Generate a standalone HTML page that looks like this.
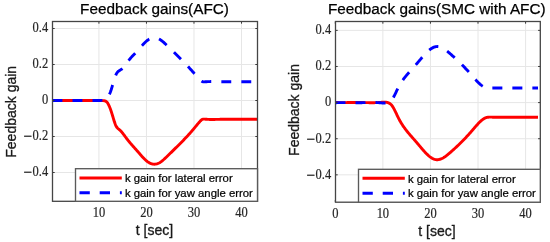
<!DOCTYPE html>
<html><head><meta charset="utf-8"><style>
html,body{margin:0;padding:0;background:#fff;width:550px;height:242px;overflow:hidden}
svg{display:block}
text{font-family:"Liberation Sans",Arial,sans-serif}
.tk{font-family:"Liberation Serif","Times New Roman",serif;font-size:13px;fill:#262626;stroke:#262626;stroke-width:0.18px}
.ti{font-size:15.3px;fill:#000;stroke:#000;stroke-width:0.25px}
.lb{font-size:14px;fill:#1a1a1a;stroke:#1a1a1a;stroke-width:0.32px}
.lg{font-size:11.35px;fill:#000;stroke:#000;stroke-width:0.22px}
.mn{font-family:"DejaVu Serif",serif;font-size:12px}
</style></head><body>
<svg width="550" height="242" viewBox="0 0 550 242">
<rect width="550" height="242" fill="#fff"/>
<line x1="98.93" y1="21.5" x2="98.93" y2="201.3" stroke="#e6e6e6" stroke-width="1"/>
<line x1="146.46" y1="21.5" x2="146.46" y2="201.3" stroke="#e6e6e6" stroke-width="1"/>
<line x1="193.99" y1="21.5" x2="193.99" y2="201.3" stroke="#e6e6e6" stroke-width="1"/>
<line x1="241.52" y1="21.5" x2="241.52" y2="201.3" stroke="#e6e6e6" stroke-width="1"/>
<line x1="52.5" y1="172.50" x2="257.5" y2="172.50" stroke="#e6e6e6" stroke-width="1"/>
<line x1="52.5" y1="136.50" x2="257.5" y2="136.50" stroke="#e6e6e6" stroke-width="1"/>
<line x1="52.5" y1="100.50" x2="257.5" y2="100.50" stroke="#e6e6e6" stroke-width="1"/>
<line x1="52.5" y1="64.50" x2="257.5" y2="64.50" stroke="#e6e6e6" stroke-width="1"/>
<line x1="52.5" y1="28.50" x2="257.5" y2="28.50" stroke="#e6e6e6" stroke-width="1"/>
<path d="M52.50,100.47L53.00,100.48L53.50,100.48L54.00,100.49L54.50,100.49L55.00,100.49L55.50,100.50L56.00,100.50L56.50,100.50L57.00,100.51L57.50,100.51L58.00,100.51L58.50,100.51L59.00,100.51L59.50,100.51L60.00,100.52L60.50,100.52L61.00,100.52L61.50,100.52L62.00,100.52L62.50,100.52L63.00,100.52L63.50,100.52L64.00,100.52L64.50,100.52L65.00,100.52L65.50,100.52L66.00,100.52L66.50,100.52L67.00,100.52L67.50,100.52L68.00,100.51L68.50,100.51L69.00,100.51L69.50,100.51L70.00,100.51L70.50,100.51L71.00,100.51L71.50,100.50L72.00,100.50L72.50,100.50L73.00,100.50L73.50,100.50L74.00,100.50L74.50,100.50L75.00,100.49L75.50,100.49L76.00,100.49L76.50,100.49L77.00,100.49L77.50,100.49L78.00,100.48L78.50,100.48L79.00,100.48L79.50,100.48L80.00,100.48L80.50,100.48L81.00,100.48L81.50,100.48L82.00,100.48L82.50,100.47L83.00,100.47L83.50,100.47L84.00,100.47L84.50,100.47L85.00,100.47L85.50,100.47L86.00,100.47L86.50,100.47L87.00,100.48L87.50,100.48L88.00,100.48L88.50,100.48L89.00,100.48L89.50,100.48L90.00,100.48L90.50,100.49L91.00,100.49L91.50,100.49L92.00,100.49L92.50,100.50L93.00,100.50L93.50,100.50L94.00,100.51L94.50,100.51L95.00,100.52L95.50,100.52L96.00,100.53L96.50,100.53L97.00,100.54L97.50,100.54L98.00,100.55L98.50,100.56L99.00,100.56L99.50,100.57L100.00,100.58L100.50,100.59L101.00,100.59L101.50,100.60L102.00,100.61L102.50,100.62L103.00,100.63L103.50,100.66L104.00,100.71L104.50,100.79L105.00,100.92L105.50,101.11L106.00,101.38L106.50,101.73L107.00,102.21L107.50,102.85L108.00,103.65L108.50,104.58L109.00,105.64L109.50,106.79L110.00,108.03L110.50,109.34L111.00,110.74L111.50,112.24L112.00,113.83L112.50,115.49L113.00,117.17L113.50,118.86L114.00,120.50L114.50,122.08L115.00,123.54L115.50,124.86L116.00,125.99L116.50,126.87L117.00,127.54L117.50,128.07L118.00,128.54L118.50,128.97L119.00,129.37L119.50,129.78L120.00,130.21L120.50,130.68L121.00,131.21L121.50,131.78L122.00,132.39L122.50,133.02L123.00,133.66L123.50,134.32L124.00,134.98L124.50,135.65L125.00,136.32L125.50,137.00L126.00,137.67L126.50,138.34L127.00,139.00L127.50,139.65L128.00,140.28L128.50,140.91L129.00,141.53L129.50,142.14L130.00,142.74L130.50,143.33L131.00,143.91L131.50,144.49L132.00,145.06L132.50,145.63L133.00,146.20L133.50,146.76L134.00,147.32L134.50,147.88L135.00,148.43L135.50,148.99L136.00,149.55L136.50,150.11L137.00,150.68L137.50,151.25L138.00,151.82L138.50,152.40L139.00,152.98L139.50,153.56L140.00,154.14L140.50,154.72L141.00,155.30L141.50,155.87L142.00,156.43L142.50,156.99L143.00,157.53L143.50,158.06L144.00,158.58L144.50,159.08L145.00,159.56L145.50,160.02L146.00,160.47L146.50,160.88L147.00,161.28L147.50,161.65L148.00,162.00L148.50,162.32L149.00,162.62L149.50,162.89L150.00,163.14L150.50,163.36L151.00,163.56L151.50,163.73L152.00,163.87L152.50,163.99L153.00,164.08L153.50,164.15L154.00,164.18L154.50,164.19L155.00,164.17L155.50,164.13L156.00,164.05L156.50,163.95L157.00,163.82L157.50,163.66L158.00,163.47L158.50,163.25L159.00,163.00L159.50,162.72L160.00,162.42L160.50,162.09L161.00,161.75L161.50,161.38L162.00,160.99L162.50,160.59L163.00,160.17L163.50,159.74L164.00,159.29L164.50,158.84L165.00,158.38L165.50,157.91L166.00,157.44L166.50,156.96L167.00,156.48L167.50,156.00L168.00,155.52L168.50,155.04L169.00,154.55L169.50,154.06L170.00,153.57L170.50,153.08L171.00,152.59L171.50,152.10L172.00,151.60L172.50,151.11L173.00,150.62L173.50,150.12L174.00,149.63L174.50,149.13L175.00,148.64L175.50,148.15L176.00,147.66L176.50,147.16L177.00,146.67L177.50,146.18L178.00,145.68L178.50,145.18L179.00,144.69L179.50,144.19L180.00,143.69L180.50,143.19L181.00,142.69L181.50,142.18L182.00,141.68L182.50,141.17L183.00,140.66L183.50,140.15L184.00,139.63L184.50,139.11L185.00,138.59L185.50,138.07L186.00,137.54L186.50,137.01L187.00,136.48L187.50,135.94L188.00,135.39L188.50,134.85L189.00,134.30L189.50,133.74L190.00,133.18L190.50,132.62L191.00,132.05L191.50,131.48L192.00,130.90L192.50,130.32L193.00,129.73L193.50,129.13L194.00,128.53L194.50,127.92L195.00,127.31L195.50,126.70L196.00,126.09L196.50,125.48L197.00,124.87L197.50,124.27L198.00,123.67L198.50,123.09L199.00,122.51L199.50,121.94L200.00,121.39L200.50,120.85L201.00,120.35L201.50,119.91L202.00,119.56L202.50,119.32L203.00,119.17L203.50,119.11L204.00,119.10L204.50,119.13L205.00,119.17L205.50,119.22L206.00,119.26L206.50,119.29L207.00,119.32L207.50,119.35L208.00,119.37L208.50,119.40L209.00,119.41L209.50,119.43L210.00,119.44L210.50,119.45L211.00,119.45L211.50,119.46L212.00,119.46L212.50,119.46L213.00,119.46L213.50,119.45L214.00,119.45L214.50,119.44L215.00,119.43L215.50,119.42L216.00,119.41L216.50,119.40L217.00,119.39L217.50,119.38L218.00,119.36L218.50,119.35L219.00,119.34L219.50,119.33L220.00,119.32L220.50,119.31L221.00,119.30L221.50,119.29L222.00,119.28L222.50,119.27L223.00,119.27L223.50,119.26L224.00,119.26L224.50,119.26L225.00,119.25L225.50,119.25L226.00,119.25L226.50,119.26L227.00,119.26L227.50,119.26L228.00,119.26L228.50,119.27L229.00,119.27L229.50,119.27L230.00,119.28L230.50,119.28L231.00,119.29L231.50,119.29L232.00,119.29L232.50,119.30L233.00,119.30L233.50,119.31L234.00,119.31L234.50,119.31L235.00,119.32L235.50,119.32L236.00,119.32L236.50,119.32L237.00,119.32L237.50,119.32L238.00,119.32L238.50,119.32L239.00,119.32L239.50,119.32L240.00,119.32L240.50,119.32L241.00,119.32L241.50,119.32L242.00,119.31L242.50,119.31L243.00,119.31L243.50,119.31L244.00,119.31L244.50,119.30L245.00,119.30L245.50,119.30L246.00,119.30L246.50,119.30L247.00,119.29L247.50,119.29L248.00,119.29L248.50,119.29L249.00,119.29L249.50,119.29L250.00,119.29L250.50,119.29L251.00,119.29L251.50,119.29L252.00,119.29L252.50,119.29L253.00,119.29L253.50,119.29L254.00,119.29L254.50,119.29L255.00,119.30L255.50,119.30L256.00,119.30L256.50,119.31L257.00,119.31" fill="none" stroke="#ff0000" stroke-width="2.9" stroke-linejoin="round"/>
<path d="M52.50,100.52L53.00,100.52L53.50,100.51L54.00,100.51L54.50,100.51L55.00,100.51L55.50,100.50L56.00,100.50L56.50,100.50L57.00,100.50L57.50,100.49L58.00,100.49L58.50,100.49L59.00,100.49L59.50,100.49L60.00,100.49L60.50,100.49L61.00,100.49L61.50,100.48L62.00,100.48L62.50,100.48L63.00,100.48L63.50,100.48L64.00,100.48L64.50,100.48L65.00,100.48L65.50,100.49L66.00,100.49L66.50,100.49L67.00,100.49L67.50,100.49L68.00,100.49L68.50,100.49L69.00,100.49L69.50,100.49L70.00,100.49L70.50,100.49L71.00,100.50L71.50,100.50L72.00,100.50L72.50,100.50L73.00,100.50L73.50,100.50L74.00,100.50L74.50,100.50L75.00,100.51L75.50,100.51L76.00,100.51L76.50,100.51L77.00,100.51L77.50,100.51L78.00,100.51L78.50,100.51L79.00,100.51L79.50,100.52L80.00,100.52L80.50,100.52L81.00,100.52L81.50,100.52L82.00,100.52L82.50,100.52L83.00,100.52L83.50,100.52L84.00,100.52L84.50,100.52L85.00,100.52L85.50,100.52L86.00,100.52L86.50,100.52L87.00,100.52L87.50,100.52L88.00,100.52L88.50,100.52L89.00,100.52L89.50,100.51L90.00,100.51L90.50,100.51L91.00,100.51L91.50,100.51L92.00,100.50L92.50,100.50L93.00,100.50L93.50,100.50L94.00,100.49L94.50,100.49L95.00,100.49L95.50,100.48L96.00,100.48L96.50,100.47L97.00,100.47L97.50,100.46L98.00,100.46L98.50,100.45L99.00,100.45L99.50,100.44L100.00,100.43L100.50,100.43L101.00,100.42L101.50,100.41L102.00,100.41L102.50,100.40L103.00,100.39L103.50,100.36L104.00,100.32L104.50,100.23L105.00,100.10L105.50,99.90L106.00,99.63L106.50,99.26L107.00,98.77L107.50,98.13L108.00,97.34L108.50,96.41L109.00,95.37L109.50,94.22L110.00,93.00L110.50,91.69L111.00,90.28L111.50,88.76L112.00,87.13L112.50,85.42L113.00,83.68L113.50,81.94L114.00,80.25L114.50,78.64L115.00,77.15L115.50,75.81L116.00,74.63L116.50,73.62L117.00,72.77L117.50,72.11L118.00,71.60L118.50,71.20L119.00,70.84L119.50,70.51L120.00,70.20L120.50,69.89L121.00,69.58L121.50,69.26L122.00,68.90L122.50,68.50L123.00,68.03L123.50,67.49L124.00,66.89L124.50,66.25L125.00,65.57L125.50,64.86L126.00,64.14L126.50,63.42L127.00,62.70L127.50,62.00L128.00,61.32L128.50,60.66L129.00,60.03L129.50,59.41L130.00,58.81L130.50,58.23L131.00,57.66L131.50,57.11L132.00,56.56L132.50,56.03L133.00,55.50L133.50,54.98L134.00,54.46L134.50,53.94L135.00,53.43L135.50,52.91L136.00,52.39L136.50,51.87L137.00,51.34L137.50,50.80L138.00,50.25L138.50,49.69L139.00,49.12L139.50,48.55L140.00,47.97L140.50,47.39L141.00,46.81L141.50,46.23L142.00,45.66L142.50,45.09L143.00,44.53L143.50,43.98L144.00,43.45L144.50,42.94L145.00,42.44L145.50,41.96L146.00,41.51L146.50,41.08L147.00,40.67L147.50,40.29L148.00,39.94L148.50,39.61L149.00,39.31L149.50,39.04L150.00,38.79L150.50,38.57L151.00,38.37L151.50,38.20L152.00,38.06L152.50,37.95L153.00,37.86L153.50,37.80L154.00,37.76L154.50,37.76L155.00,37.78L155.50,37.83L156.00,37.91L156.50,38.02L157.00,38.15L157.50,38.32L158.00,38.51L158.50,38.73L159.00,38.98L159.50,39.26L160.00,39.56L160.50,39.88L161.00,40.23L161.50,40.59L162.00,40.98L162.50,41.38L163.00,41.79L163.50,42.22L164.00,42.66L164.50,43.11L165.00,43.57L165.50,44.03L166.00,44.50L166.50,44.97L167.00,45.45L167.50,45.92L168.00,46.40L168.50,46.88L169.00,47.37L169.50,47.85L170.00,48.34L170.50,48.83L171.00,49.32L171.50,49.81L172.00,50.30L172.50,50.80L173.00,51.29L173.50,51.78L174.00,52.28L174.50,52.77L175.00,53.27L175.50,53.76L176.00,54.26L176.50,54.75L177.00,55.25L177.50,55.75L178.00,56.25L178.50,56.74L179.00,57.24L179.50,57.74L180.00,58.25L180.50,58.75L181.00,59.25L181.50,59.76L182.00,60.27L182.50,60.78L183.00,61.29L183.50,61.80L184.00,62.31L184.50,62.83L185.00,63.35L185.50,63.87L186.00,64.39L186.50,64.92L187.00,65.45L187.50,65.98L188.00,66.51L188.50,67.05L189.00,67.59L189.50,68.13L190.00,68.67L190.50,69.22L191.00,69.77L191.50,70.33L192.00,70.89L192.50,71.45L193.00,72.02L193.50,72.58L194.00,73.16L194.50,73.73L195.00,74.31L195.50,74.89L196.00,75.47L196.50,76.04L197.00,76.60L197.50,77.16L198.00,77.72L198.50,78.26L199.00,78.79L199.50,79.30L200.00,79.80L200.50,80.28L201.00,80.73L201.50,81.12L202.00,81.44L202.50,81.65L203.00,81.78L203.50,81.85L204.00,81.86L204.50,81.84L205.00,81.81L205.50,81.77L206.00,81.74L206.50,81.71L207.00,81.69L207.50,81.66L208.00,81.64L208.50,81.62L209.00,81.61L209.50,81.59L210.00,81.58L210.50,81.57L211.00,81.57L211.50,81.56L212.00,81.56L212.50,81.56L213.00,81.56L213.50,81.56L214.00,81.56L214.50,81.57L215.00,81.57L215.50,81.58L216.00,81.59L216.50,81.60L217.00,81.61L217.50,81.62L218.00,81.63L218.50,81.65L219.00,81.66L219.50,81.67L220.00,81.68L220.50,81.69L221.00,81.70L221.50,81.71L222.00,81.72L222.50,81.72L223.00,81.73L223.50,81.73L224.00,81.74L224.50,81.74L225.00,81.74L225.50,81.74L226.00,81.74L226.50,81.74L227.00,81.74L227.50,81.74L228.00,81.73L228.50,81.73L229.00,81.73L229.50,81.73L230.00,81.72L230.50,81.72L231.00,81.71L231.50,81.71L232.00,81.71L232.50,81.70L233.00,81.70L233.50,81.69L234.00,81.69L234.50,81.69L235.00,81.69L235.50,81.68L236.00,81.68L236.50,81.68L237.00,81.68L237.50,81.68L238.00,81.68L238.50,81.68L239.00,81.68L239.50,81.68L240.00,81.68L240.50,81.68L241.00,81.68L241.50,81.69L242.00,81.69L242.50,81.69L243.00,81.69L243.50,81.69L244.00,81.69L244.50,81.70L245.00,81.70L245.50,81.70L246.00,81.70L246.50,81.70L247.00,81.71L247.50,81.71L248.00,81.71L248.50,81.71L249.00,81.71L249.50,81.71L250.00,81.71L250.50,81.71L251.00,81.71L251.50,81.71L252.00,81.71L252.50,81.71L253.00,81.71L253.50,81.71L254.00,81.71L254.50,81.71L255.00,81.70L255.50,81.70L256.00,81.70L256.50,81.69L257.00,81.69" fill="none" stroke="#0000ff" stroke-width="2.9" stroke-dasharray="9.9 10.1" stroke-dashoffset="0"/>
<line x1="98.93" y1="201.3" x2="98.93" y2="199.10000000000002" stroke="#363636" stroke-width="1"/>
<line x1="98.93" y1="21.5" x2="98.93" y2="23.7" stroke="#363636" stroke-width="1"/>
<line x1="146.46" y1="201.3" x2="146.46" y2="199.10000000000002" stroke="#363636" stroke-width="1"/>
<line x1="146.46" y1="21.5" x2="146.46" y2="23.7" stroke="#363636" stroke-width="1"/>
<line x1="193.99" y1="201.3" x2="193.99" y2="199.10000000000002" stroke="#363636" stroke-width="1"/>
<line x1="193.99" y1="21.5" x2="193.99" y2="23.7" stroke="#363636" stroke-width="1"/>
<line x1="241.52" y1="201.3" x2="241.52" y2="199.10000000000002" stroke="#363636" stroke-width="1"/>
<line x1="241.52" y1="21.5" x2="241.52" y2="23.7" stroke="#363636" stroke-width="1"/>
<line x1="52.5" y1="172.50" x2="54.7" y2="172.50" stroke="#363636" stroke-width="1"/>
<line x1="257.5" y1="172.50" x2="255.3" y2="172.50" stroke="#363636" stroke-width="1"/>
<line x1="52.5" y1="136.50" x2="54.7" y2="136.50" stroke="#363636" stroke-width="1"/>
<line x1="257.5" y1="136.50" x2="255.3" y2="136.50" stroke="#363636" stroke-width="1"/>
<line x1="52.5" y1="100.50" x2="54.7" y2="100.50" stroke="#363636" stroke-width="1"/>
<line x1="257.5" y1="100.50" x2="255.3" y2="100.50" stroke="#363636" stroke-width="1"/>
<line x1="52.5" y1="64.50" x2="54.7" y2="64.50" stroke="#363636" stroke-width="1"/>
<line x1="257.5" y1="64.50" x2="255.3" y2="64.50" stroke="#363636" stroke-width="1"/>
<line x1="52.5" y1="28.50" x2="54.7" y2="28.50" stroke="#363636" stroke-width="1"/>
<line x1="257.5" y1="28.50" x2="255.3" y2="28.50" stroke="#363636" stroke-width="1"/>
<rect x="52.5" y="21.5" width="205.00" height="179.80" fill="none" stroke="#454545" stroke-width="1.3"/>
<rect x="75.5" y="168.7" width="182.00" height="32.60" fill="#fff" stroke="#5a5a5a" stroke-width="1.35"/>
<line x1="79.5" y1="178.0" x2="121.8" y2="178.0" stroke="#ff0000" stroke-width="2.9"/>
<line x1="79.5" y1="192.7" x2="121.8" y2="192.7" stroke="#0000ff" stroke-width="2.9" stroke-dasharray="10.3 9.9"/>
<text x="124.90" y="182.40" class="lg">k gain for lateral error</text>
<text x="124.90" y="196.90" class="lg">k gain for yaw angle error</text>
<text class="tk" transform="translate(48.20,176.30) scale(0.96,1.04)" text-anchor="end"><tspan class="mn">−</tspan>0.4</text>
<text class="tk" transform="translate(48.20,140.30) scale(0.96,1.04)" text-anchor="end"><tspan class="mn">−</tspan>0.2</text>
<text class="tk" transform="translate(48.20,104.30) scale(0.96,1.04)" text-anchor="end">0</text>
<text class="tk" transform="translate(48.20,68.30) scale(0.96,1.04)" text-anchor="end">0.2</text>
<text class="tk" transform="translate(48.20,32.30) scale(0.96,1.04)" text-anchor="end">0.4</text>
<text class="tk" transform="translate(98.93,216.90) scale(0.96,1.04)" text-anchor="middle">10</text>
<text class="tk" transform="translate(146.46,216.90) scale(0.96,1.04)" text-anchor="middle">20</text>
<text class="tk" transform="translate(193.99,216.90) scale(0.96,1.04)" text-anchor="middle">30</text>
<text class="tk" transform="translate(241.52,216.90) scale(0.96,1.04)" text-anchor="middle">40</text>
<text class="ti" x="154.5" y="14.4" text-anchor="middle">Feedback gains(AFC)</text>
<text class="lb" x="154.5" y="234.6" text-anchor="middle">t [sec]</text>
<text class="lb" x="0" y="0" text-anchor="middle" transform="translate(15.7,111.8) rotate(-90)">Feedback gain</text>
<line x1="382.87" y1="21.5" x2="382.87" y2="202.2" stroke="#e6e6e6" stroke-width="1"/>
<line x1="430.44" y1="21.5" x2="430.44" y2="202.2" stroke="#e6e6e6" stroke-width="1"/>
<line x1="478.01" y1="21.5" x2="478.01" y2="202.2" stroke="#e6e6e6" stroke-width="1"/>
<line x1="525.58" y1="21.5" x2="525.58" y2="202.2" stroke="#e6e6e6" stroke-width="1"/>
<line x1="335.5" y1="174.84" x2="540.3" y2="174.84" stroke="#e6e6e6" stroke-width="1"/>
<line x1="335.5" y1="138.72" x2="540.3" y2="138.72" stroke="#e6e6e6" stroke-width="1"/>
<line x1="335.5" y1="102.60" x2="540.3" y2="102.60" stroke="#e6e6e6" stroke-width="1"/>
<line x1="335.5" y1="66.48" x2="540.3" y2="66.48" stroke="#e6e6e6" stroke-width="1"/>
<line x1="335.5" y1="30.36" x2="540.3" y2="30.36" stroke="#e6e6e6" stroke-width="1"/>
<path d="M335.50,102.48L336.00,102.51L336.50,102.52L337.00,102.54L337.50,102.56L338.00,102.57L338.50,102.58L339.00,102.59L339.50,102.60L340.00,102.60L340.50,102.61L341.00,102.61L341.50,102.61L342.00,102.62L342.50,102.61L343.00,102.61L343.50,102.61L344.00,102.61L344.50,102.60L345.00,102.60L345.50,102.59L346.00,102.59L346.50,102.58L347.00,102.57L347.50,102.57L348.00,102.56L348.50,102.55L349.00,102.54L349.50,102.53L350.00,102.52L350.50,102.52L351.00,102.51L351.50,102.50L352.00,102.49L352.50,102.49L353.00,102.48L353.50,102.47L354.00,102.47L354.50,102.46L355.00,102.46L355.50,102.46L356.00,102.46L356.50,102.46L357.00,102.46L357.50,102.46L358.00,102.46L358.50,102.46L359.00,102.47L359.50,102.48L360.00,102.48L360.50,102.49L361.00,102.50L361.50,102.51L362.00,102.52L362.50,102.53L363.00,102.54L363.50,102.56L364.00,102.57L364.50,102.58L365.00,102.59L365.50,102.60L366.00,102.62L366.50,102.63L367.00,102.64L367.50,102.65L368.00,102.66L368.50,102.67L369.00,102.68L369.50,102.68L370.00,102.69L370.50,102.69L371.00,102.70L371.50,102.70L372.00,102.70L372.50,102.70L373.00,102.70L373.50,102.70L374.00,102.69L374.50,102.68L375.00,102.67L375.50,102.66L376.00,102.64L376.50,102.63L377.00,102.61L377.50,102.59L378.00,102.56L378.50,102.53L379.00,102.50L379.50,102.47L380.00,102.43L380.50,102.39L381.00,102.35L381.50,102.30L382.00,102.26L382.50,102.22L383.00,102.19L383.50,102.16L384.00,102.15L384.50,102.14L385.00,102.16L385.50,102.19L386.00,102.24L386.50,102.31L387.00,102.41L387.50,102.53L388.00,102.68L388.50,102.87L389.00,103.08L389.50,103.35L390.00,103.66L390.50,104.04L391.00,104.49L391.50,105.02L392.00,105.64L392.50,106.35L393.00,107.13L393.50,107.98L394.00,108.89L394.50,109.85L395.00,110.84L395.50,111.86L396.00,112.91L396.50,113.96L397.00,115.01L397.50,116.06L398.00,117.09L398.50,118.10L399.00,119.09L399.50,120.04L400.00,120.96L400.50,121.84L401.00,122.69L401.50,123.52L402.00,124.31L402.50,125.08L403.00,125.83L403.50,126.56L404.00,127.27L404.50,127.96L405.00,128.65L405.50,129.31L406.00,129.97L406.50,130.61L407.00,131.24L407.50,131.87L408.00,132.48L408.50,133.08L409.00,133.68L409.50,134.27L410.00,134.85L410.50,135.43L411.00,136.01L411.50,136.58L412.00,137.14L412.50,137.71L413.00,138.27L413.50,138.84L414.00,139.40L414.50,139.97L415.00,140.54L415.50,141.11L416.00,141.68L416.50,142.26L417.00,142.85L417.50,143.44L418.00,144.03L418.50,144.62L419.00,145.22L419.50,145.82L420.00,146.41L420.50,147.01L421.00,147.60L421.50,148.19L422.00,148.78L422.50,149.36L423.00,149.93L423.50,150.50L424.00,151.06L424.50,151.61L425.00,152.15L425.50,152.68L426.00,153.20L426.50,153.70L427.00,154.19L427.50,154.67L428.00,155.13L428.50,155.58L429.00,156.01L429.50,156.42L430.00,156.81L430.50,157.18L431.00,157.52L431.50,157.85L432.00,158.16L432.50,158.44L433.00,158.69L433.50,158.92L434.00,159.12L434.50,159.30L435.00,159.44L435.50,159.56L436.00,159.64L436.50,159.70L437.00,159.72L437.50,159.72L438.00,159.68L438.50,159.62L439.00,159.52L439.50,159.41L440.00,159.26L440.50,159.10L441.00,158.91L441.50,158.69L442.00,158.46L442.50,158.21L443.00,157.94L443.50,157.65L444.00,157.34L444.50,157.02L445.00,156.68L445.50,156.33L446.00,155.96L446.50,155.59L447.00,155.20L447.50,154.80L448.00,154.40L448.50,153.99L449.00,153.57L449.50,153.14L450.00,152.71L450.50,152.28L451.00,151.84L451.50,151.40L452.00,150.96L452.50,150.52L453.00,150.07L453.50,149.62L454.00,149.17L454.50,148.71L455.00,148.26L455.50,147.80L456.00,147.33L456.50,146.87L457.00,146.40L457.50,145.93L458.00,145.45L458.50,144.97L459.00,144.49L459.50,144.01L460.00,143.52L460.50,143.03L461.00,142.53L461.50,142.03L462.00,141.53L462.50,141.03L463.00,140.52L463.50,140.01L464.00,139.49L464.50,138.97L465.00,138.45L465.50,137.92L466.00,137.39L466.50,136.86L467.00,136.32L467.50,135.77L468.00,135.23L468.50,134.67L469.00,134.12L469.50,133.56L470.00,133.00L470.50,132.43L471.00,131.86L471.50,131.28L472.00,130.70L472.50,130.12L473.00,129.53L473.50,128.95L474.00,128.37L474.50,127.79L475.00,127.21L475.50,126.64L476.00,126.07L476.50,125.51L477.00,124.95L477.50,124.40L478.00,123.86L478.50,123.34L479.00,122.82L479.50,122.31L480.00,121.82L480.50,121.35L481.00,120.89L481.50,120.45L482.00,120.03L482.50,119.64L483.00,119.27L483.50,118.93L484.00,118.61L484.50,118.33L485.00,118.07L485.50,117.85L486.00,117.67L486.50,117.52L487.00,117.40L487.50,117.30L488.00,117.23L488.50,117.18L489.00,117.15L489.50,117.13L490.00,117.13L490.50,117.13L491.00,117.14L491.50,117.15L492.00,117.17L492.50,117.18L493.00,117.19L493.50,117.20L494.00,117.21L494.50,117.22L495.00,117.22L495.50,117.23L496.00,117.23L496.50,117.23L497.00,117.24L497.50,117.24L498.00,117.24L498.50,117.24L499.00,117.23L499.50,117.23L500.00,117.23L500.50,117.23L501.00,117.23L501.50,117.22L502.00,117.22L502.50,117.21L503.00,117.21L503.50,117.21L504.00,117.20L504.50,117.20L505.00,117.19L505.50,117.19L506.00,117.19L506.50,117.18L507.00,117.18L507.50,117.18L508.00,117.18L508.50,117.18L509.00,117.18L509.50,117.18L510.00,117.18L510.50,117.18L511.00,117.18L511.50,117.18L512.00,117.18L512.50,117.18L513.00,117.19L513.50,117.19L514.00,117.19L514.50,117.19L515.00,117.20L515.50,117.20L516.00,117.20L516.50,117.20L517.00,117.20L517.50,117.21L518.00,117.21L518.50,117.21L519.00,117.21L519.50,117.21L520.00,117.21L520.50,117.21L521.00,117.21L521.50,117.21L522.00,117.21L522.50,117.21L523.00,117.21L523.50,117.21L524.00,117.21L524.50,117.21L525.00,117.21L525.50,117.21L526.00,117.20L526.50,117.20L527.00,117.20L527.50,117.20L528.00,117.20L528.50,117.20L529.00,117.20L529.50,117.20L530.00,117.20L530.50,117.19L531.00,117.19L531.50,117.19L532.00,117.19L532.50,117.19L533.00,117.19L533.50,117.19L534.00,117.19L534.50,117.19L535.00,117.19L535.50,117.20L536.00,117.20L536.50,117.20L537.00,117.20L537.50,117.20L538.00,117.21" fill="none" stroke="#ff0000" stroke-width="2.9" stroke-linejoin="round"/>
<path d="M335.50,102.72L336.00,102.70L336.50,102.68L337.00,102.66L337.50,102.64L338.00,102.63L338.50,102.62L339.00,102.61L339.50,102.60L340.00,102.59L340.50,102.59L341.00,102.59L341.50,102.58L342.00,102.58L342.50,102.58L343.00,102.58L343.50,102.59L344.00,102.59L344.50,102.59L345.00,102.60L345.50,102.61L346.00,102.61L346.50,102.62L347.00,102.63L347.50,102.63L348.00,102.64L348.50,102.65L349.00,102.66L349.50,102.67L350.00,102.68L350.50,102.68L351.00,102.69L351.50,102.70L352.00,102.71L352.50,102.72L353.00,102.72L353.50,102.73L354.00,102.73L354.50,102.74L355.00,102.74L355.50,102.74L356.00,102.75L356.50,102.75L357.00,102.75L357.50,102.75L358.00,102.74L358.50,102.74L359.00,102.73L359.50,102.73L360.00,102.72L360.50,102.71L361.00,102.70L361.50,102.69L362.00,102.68L362.50,102.67L363.00,102.66L363.50,102.64L364.00,102.63L364.50,102.62L365.00,102.61L365.50,102.59L366.00,102.58L366.50,102.57L367.00,102.56L367.50,102.55L368.00,102.54L368.50,102.53L369.00,102.52L369.50,102.51L370.00,102.51L370.50,102.50L371.00,102.50L371.50,102.49L372.00,102.49L372.50,102.49L373.00,102.50L373.50,102.50L374.00,102.51L374.50,102.51L375.00,102.52L375.50,102.54L376.00,102.55L376.50,102.57L377.00,102.59L377.50,102.61L378.00,102.64L378.50,102.67L379.00,102.70L379.50,102.73L380.00,102.77L380.50,102.81L381.00,102.86L381.50,102.90L382.00,102.95L382.50,102.99L383.00,103.02L383.50,103.05L384.00,103.06L384.50,103.07L385.00,103.05L385.50,103.02L386.00,102.98L386.50,102.90L387.00,102.81L387.50,102.68L388.00,102.53L388.50,102.35L389.00,102.13L389.50,101.86L390.00,101.55L390.50,101.17L391.00,100.71L391.50,100.18L392.00,99.55L392.50,98.84L393.00,98.05L393.50,97.20L394.00,96.28L394.50,95.32L395.00,94.33L395.50,93.30L396.00,92.26L396.50,91.21L397.00,90.17L397.50,89.13L398.00,88.12L398.50,87.13L399.00,86.17L399.50,85.25L400.00,84.37L400.50,83.53L401.00,82.73L401.50,81.96L402.00,81.22L402.50,80.50L403.00,79.81L403.50,79.14L404.00,78.48L404.50,77.83L405.00,77.19L405.50,76.57L406.00,75.95L406.50,75.34L407.00,74.75L407.50,74.16L408.00,73.57L408.50,73.00L409.00,72.43L409.50,71.86L410.00,71.30L410.50,70.74L411.00,70.18L411.50,69.63L412.00,69.08L412.50,68.53L413.00,67.97L413.50,67.42L414.00,66.86L414.50,66.31L415.00,65.75L415.50,65.18L416.00,64.61L416.50,64.04L417.00,63.46L417.50,62.87L418.00,62.29L418.50,61.69L419.00,61.10L419.50,60.51L420.00,59.91L420.50,59.32L421.00,58.73L421.50,58.14L422.00,57.56L422.50,56.98L423.00,56.40L423.50,55.83L424.00,55.28L424.50,54.72L425.00,54.18L425.50,53.65L426.00,53.13L426.50,52.63L427.00,52.13L427.50,51.65L428.00,51.19L428.50,50.74L429.00,50.31L429.50,49.90L430.00,49.51L430.50,49.14L431.00,48.79L431.50,48.46L432.00,48.15L432.50,47.87L433.00,47.61L433.50,47.38L434.00,47.18L434.50,47.00L435.00,46.85L435.50,46.73L436.00,46.65L436.50,46.59L437.00,46.56L437.50,46.57L438.00,46.61L438.50,46.67L439.00,46.76L439.50,46.88L440.00,47.02L440.50,47.19L441.00,47.38L441.50,47.59L442.00,47.82L442.50,48.08L443.00,48.35L443.50,48.64L444.00,48.95L444.50,49.27L445.00,49.61L445.50,49.96L446.00,50.33L446.50,50.70L447.00,51.09L447.50,51.49L448.00,51.90L448.50,52.31L449.00,52.73L449.50,53.16L450.00,53.59L450.50,54.02L451.00,54.46L451.50,54.90L452.00,55.35L452.50,55.79L453.00,56.24L453.50,56.69L454.00,57.14L454.50,57.60L455.00,58.06L455.50,58.52L456.00,58.98L456.50,59.45L457.00,59.92L457.50,60.39L458.00,60.87L458.50,61.35L459.00,61.83L459.50,62.32L460.00,62.80L460.50,63.30L461.00,63.79L461.50,64.29L462.00,64.79L462.50,65.30L463.00,65.80L463.50,66.32L464.00,66.83L464.50,67.35L465.00,67.87L465.50,68.40L466.00,68.93L466.50,69.46L467.00,70.00L467.50,70.54L468.00,71.09L468.50,71.63L469.00,72.19L469.50,72.74L470.00,73.30L470.50,73.87L471.00,74.44L471.50,75.01L472.00,75.59L472.50,76.16L473.00,76.74L473.50,77.31L474.00,77.89L474.50,78.46L475.00,79.02L475.50,79.58L476.00,80.13L476.50,80.67L477.00,81.20L477.50,81.72L478.00,82.23L478.50,82.72L479.00,83.20L479.50,83.66L480.00,84.11L480.50,84.53L481.00,84.94L481.50,85.32L482.00,85.68L482.50,86.02L483.00,86.34L483.50,86.63L484.00,86.89L484.50,87.13L485.00,87.33L485.50,87.51L486.00,87.66L486.50,87.78L487.00,87.87L487.50,87.94L488.00,87.99L488.50,88.02L489.00,88.04L489.50,88.05L490.00,88.04L490.50,88.03L491.00,88.02L491.50,88.00L492.00,87.99L492.50,87.98L493.00,87.97L493.50,87.96L494.00,87.95L494.50,87.95L495.00,87.95L495.50,87.95L496.00,87.95L496.50,87.96L497.00,87.96L497.50,87.97L498.00,87.97L498.50,87.98L499.00,87.99L499.50,87.99L500.00,88.00L500.50,88.01L501.00,88.01L501.50,88.02L502.00,88.02L502.50,88.02L503.00,88.03L503.50,88.03L504.00,88.03L504.50,88.02L505.00,88.02L505.50,88.02L506.00,88.02L506.50,88.01L507.00,88.01L507.50,88.01L508.00,88.00L508.50,88.00L509.00,88.00L509.50,88.00L510.00,88.00L510.50,88.00L511.00,87.99L511.50,87.99L512.00,87.99L512.50,87.99L513.00,87.99L513.50,87.99L514.00,87.99L514.50,88.00L515.00,88.00L515.50,88.00L516.00,88.00L516.50,88.00L517.00,88.00L517.50,88.00L518.00,88.00L518.50,88.00L519.00,88.00L519.50,88.00L520.00,88.00L520.50,88.00L521.00,88.00L521.50,88.00L522.00,88.00L522.50,88.00L523.00,88.00L523.50,88.00L524.00,88.00L524.50,88.00L525.00,88.00L525.50,88.00L526.00,88.00L526.50,88.00L527.00,88.00L527.50,88.00L528.00,88.00L528.50,88.00L529.00,88.00L529.50,88.00L530.00,88.00L530.50,88.00L531.00,88.00L531.50,88.00L532.00,88.00L532.50,88.00L533.00,88.00L533.50,88.00L534.00,88.00L534.50,88.00L535.00,88.00L535.50,88.00L536.00,88.00L536.50,88.00L537.00,88.00L537.50,88.00L538.00,88.00" fill="none" stroke="#0000ff" stroke-width="2.9" stroke-dasharray="10 10" stroke-dashoffset="0"/>
<line x1="335.30" y1="202.2" x2="335.30" y2="200.0" stroke="#363636" stroke-width="1"/>
<line x1="335.30" y1="21.5" x2="335.30" y2="23.7" stroke="#363636" stroke-width="1"/>
<line x1="382.87" y1="202.2" x2="382.87" y2="200.0" stroke="#363636" stroke-width="1"/>
<line x1="382.87" y1="21.5" x2="382.87" y2="23.7" stroke="#363636" stroke-width="1"/>
<line x1="430.44" y1="202.2" x2="430.44" y2="200.0" stroke="#363636" stroke-width="1"/>
<line x1="430.44" y1="21.5" x2="430.44" y2="23.7" stroke="#363636" stroke-width="1"/>
<line x1="478.01" y1="202.2" x2="478.01" y2="200.0" stroke="#363636" stroke-width="1"/>
<line x1="478.01" y1="21.5" x2="478.01" y2="23.7" stroke="#363636" stroke-width="1"/>
<line x1="525.58" y1="202.2" x2="525.58" y2="200.0" stroke="#363636" stroke-width="1"/>
<line x1="525.58" y1="21.5" x2="525.58" y2="23.7" stroke="#363636" stroke-width="1"/>
<line x1="335.5" y1="174.84" x2="337.7" y2="174.84" stroke="#363636" stroke-width="1"/>
<line x1="540.3" y1="174.84" x2="538.0999999999999" y2="174.84" stroke="#363636" stroke-width="1"/>
<line x1="335.5" y1="138.72" x2="337.7" y2="138.72" stroke="#363636" stroke-width="1"/>
<line x1="540.3" y1="138.72" x2="538.0999999999999" y2="138.72" stroke="#363636" stroke-width="1"/>
<line x1="335.5" y1="102.60" x2="337.7" y2="102.60" stroke="#363636" stroke-width="1"/>
<line x1="540.3" y1="102.60" x2="538.0999999999999" y2="102.60" stroke="#363636" stroke-width="1"/>
<line x1="335.5" y1="66.48" x2="337.7" y2="66.48" stroke="#363636" stroke-width="1"/>
<line x1="540.3" y1="66.48" x2="538.0999999999999" y2="66.48" stroke="#363636" stroke-width="1"/>
<line x1="335.5" y1="30.36" x2="337.7" y2="30.36" stroke="#363636" stroke-width="1"/>
<line x1="540.3" y1="30.36" x2="538.0999999999999" y2="30.36" stroke="#363636" stroke-width="1"/>
<rect x="335.5" y="21.5" width="204.80" height="180.70" fill="none" stroke="#454545" stroke-width="1.3"/>
<rect x="358.5" y="169.3" width="181.80" height="32.90" fill="#fff" stroke="#5a5a5a" stroke-width="1.35"/>
<line x1="362.5" y1="178.3" x2="404.8" y2="178.3" stroke="#ff0000" stroke-width="2.9"/>
<line x1="362.5" y1="193.2" x2="404.8" y2="193.2" stroke="#0000ff" stroke-width="2.9" stroke-dasharray="10.3 9.9"/>
<text x="407.90" y="182.60" class="lg">k gain for lateral error</text>
<text x="407.90" y="197.30" class="lg">k gain for yaw angle error</text>
<text class="tk" transform="translate(331.20,178.64) scale(0.96,1.04)" text-anchor="end"><tspan class="mn">−</tspan>0.4</text>
<text class="tk" transform="translate(331.20,142.52) scale(0.96,1.04)" text-anchor="end"><tspan class="mn">−</tspan>0.2</text>
<text class="tk" transform="translate(331.20,106.40) scale(0.96,1.04)" text-anchor="end">0</text>
<text class="tk" transform="translate(331.20,70.28) scale(0.96,1.04)" text-anchor="end">0.2</text>
<text class="tk" transform="translate(331.20,34.16) scale(0.96,1.04)" text-anchor="end">0.4</text>
<text class="tk" transform="translate(335.30,217.80) scale(0.96,1.04)" text-anchor="middle">0</text>
<text class="tk" transform="translate(382.87,217.80) scale(0.96,1.04)" text-anchor="middle">10</text>
<text class="tk" transform="translate(430.44,217.80) scale(0.96,1.04)" text-anchor="middle">20</text>
<text class="tk" transform="translate(478.01,217.80) scale(0.96,1.04)" text-anchor="middle">30</text>
<text class="tk" transform="translate(525.58,217.80) scale(0.96,1.04)" text-anchor="middle">40</text>
<text class="ti" x="436.8" y="14.4" text-anchor="middle">Feedback gains(SMC with AFC)</text>
<text class="lb" x="437" y="235.8" text-anchor="middle">t [sec]</text>
<text class="lb" x="0" y="0" text-anchor="middle" transform="translate(298.8,110.0) rotate(-90)">Feedback gain</text>
</svg>
</body></html>
